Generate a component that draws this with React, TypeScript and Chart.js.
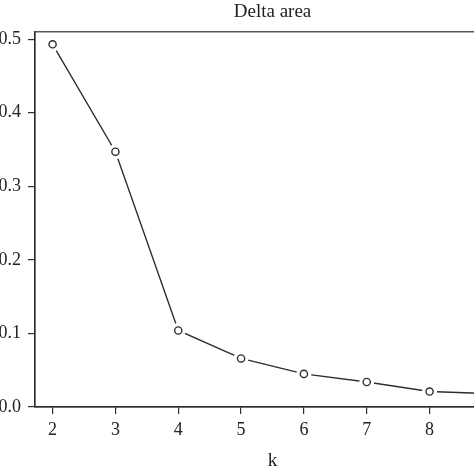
import React, { useEffect, useRef } from "react";
import { Chart, registerables } from "chart.js";

Chart.register(...registerables);

const kValues = [2, 3, 4, 5, 6, 7, 8, 9];
const deltaArea = [0.493, 0.347, 0.104, 0.066, 0.045, 0.034, 0.021, 0.018];
const xTicks = [2, 3, 4, 5, 6, 7, 8, 9];
const yTicks = [0, 0.1, 0.2, 0.3, 0.4, 0.5];

const FONT = "'Liberation Serif', 'DejaVu Serif', serif";
const INK = "#2e2e2e";

const boxPlugin = {
  id: "boxPlugin",
  afterDraw(chart: any) {
    const { ctx, chartArea } = chart;
    ctx.save();
    ctx.strokeStyle = INK;
    ctx.lineWidth = 1.2;
    ctx.strokeRect(chartArea.left, chartArea.top, chartArea.right - chartArea.left, chartArea.bottom - chartArea.top);
    ctx.restore();
  },
};

export default function App() {
  const ref = useRef<HTMLCanvasElement | null>(null);
  useEffect(() => {
    if (!ref.current) return;
    const pts = kValues.map((k, i) => ({ x: k, y: deltaArea[i] }));
    const chart = new Chart(ref.current, {
      type: "line",
      data: {
        datasets: [
          {
            data: pts,
            showLine: false,
            pointRadius: 3.6,
            pointBorderWidth: 1.4,
            pointBackgroundColor: "#ffffff",
            pointBorderColor: INK,
          },
          {
            data: pts,
            showLine: false,
            pointRadius: 7.5,
            pointBorderWidth: 0,
            pointBackgroundColor: "#ffffff",
            pointBorderColor: "#ffffff",
          },
          {
            data: pts,
            borderColor: INK,
            borderWidth: 1.4,
            pointRadius: 0,
            fill: false,
          },
        ],
      },
      options: {
        animation: false,
        responsive: false,
        devicePixelRatio: 1,
        layout: { padding: { left: 0, right: 15, top: 0, bottom: 0 } },
        plugins: {
          legend: { display: false },
          tooltip: { enabled: false },
          title: {
            display: true,
            text: "Delta area",
            color: "#222",
            fullSize: false,
            font: { family: FONT, size: 19, weight: "normal" },
            padding: { top: 1, bottom: 8 },
          },
        },
        scales: {
          x: {
            type: "linear",
            min: 1.72,
            max: 9.28,
            afterBuildTicks: (s: any) => {
              s.ticks = xTicks.map((v) => ({ value: v }));
            },
            afterFit: (s: any) => {
              s.height = 67;
            },
            grid: { display: true, drawOnChartArea: false, drawTicks: true, tickLength: 7, color: INK, lineWidth: 1.2 },
            border: { display: true, color: INK, width: 1.2 },
            ticks: { color: "#222", font: { family: FONT, size: 18 }, padding: 5, maxRotation: 0, autoSkip: false },
            title: {
              display: true,
              text: "k",
              color: "#222",
              font: { family: FONT, size: 19 },
              padding: { top: 0, bottom: 2 },
            },
          },
          y: {
            type: "linear",
            min: 0,
            max: 0.51,
            afterBuildTicks: (s: any) => {
              s.ticks = yTicks.map((v) => ({ value: v }));
            },
            afterFit: (s: any) => {
              s.width = 40;
            },
            grid: { display: true, drawOnChartArea: false, drawTicks: true, tickLength: 7, color: INK, lineWidth: 1.2 },
            border: { display: true, color: INK, width: 1.2 },
            ticks: {
              color: "#222",
              font: { family: FONT, size: 18 },
              padding: 7,
              callback: (v: any) => Number(v).toFixed(1),
            },
          },
        },
      },
      plugins: [boxPlugin],
    });
    return () => chart.destroy();
  }, []);

  return (
    <div style={{ position: "fixed", left: 0, top: 0, width: 474, height: 474, overflow: "hidden", background: "#fff" }}>
      <canvas
        ref={ref}
        width={530}
        height={474}
        style={{ position: "absolute", left: -5, top: 0, width: 530, height: 474 }}
      />
    </div>
  );
}
